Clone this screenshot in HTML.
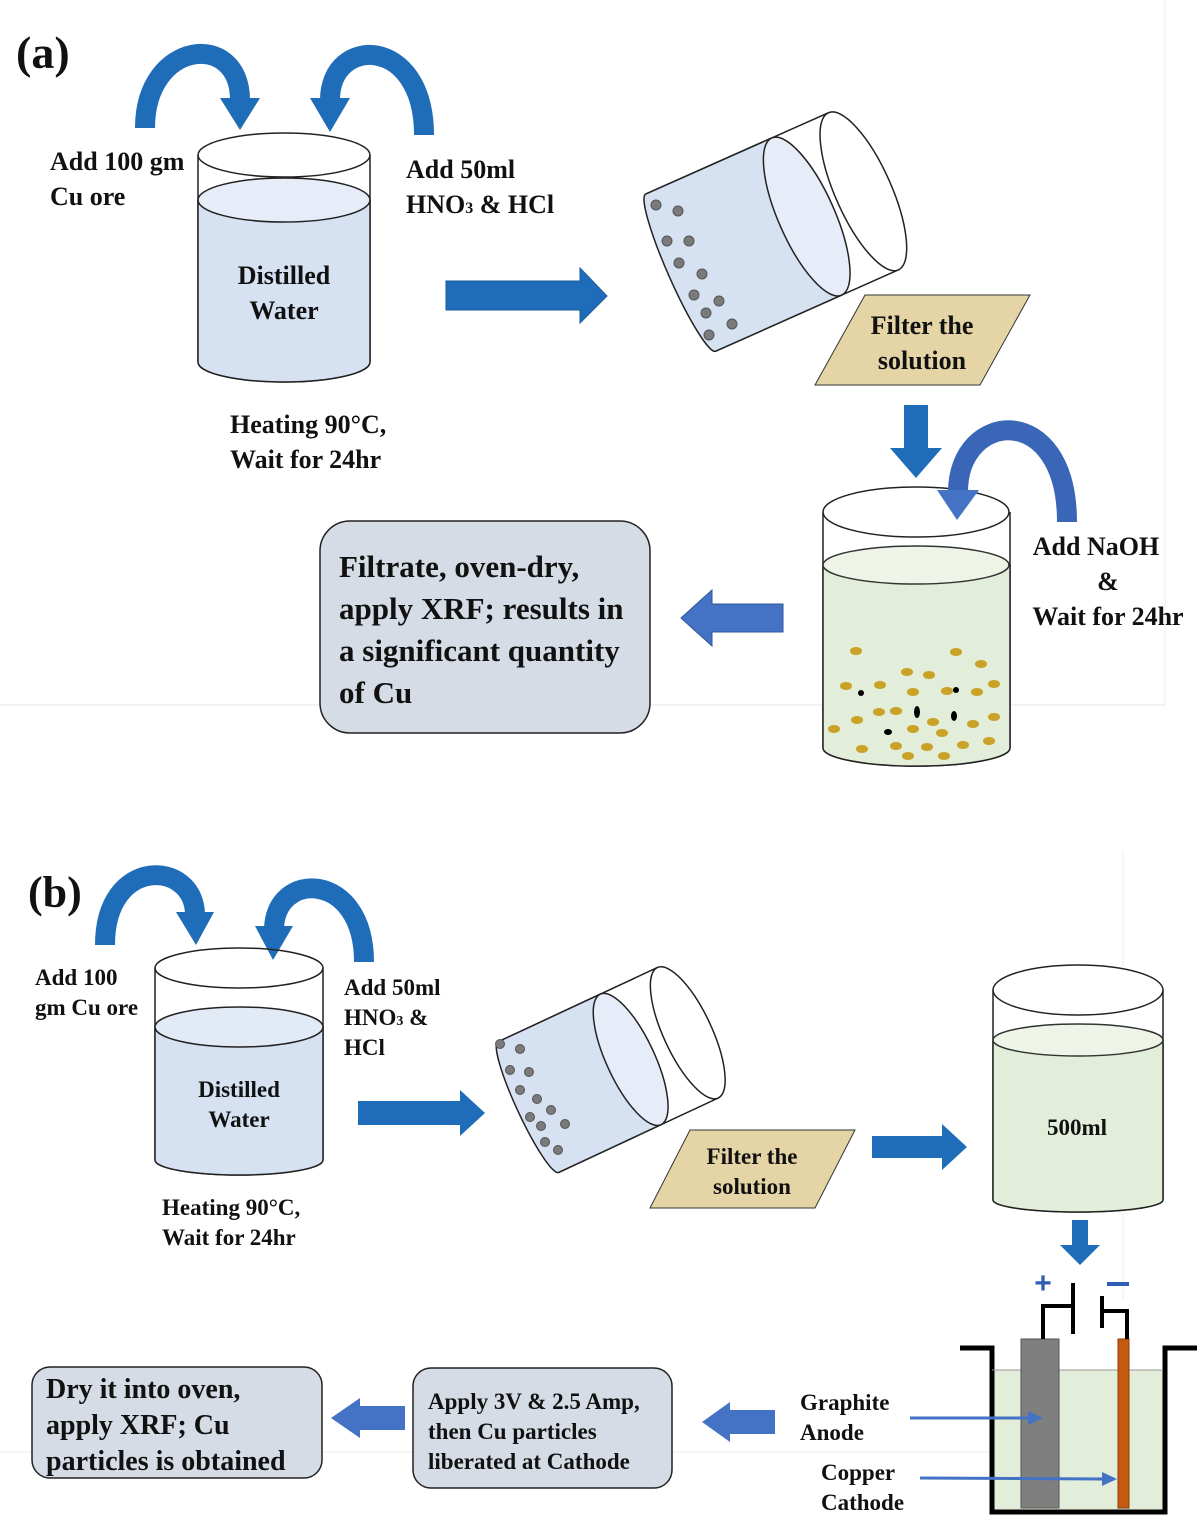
<!DOCTYPE html>
<html><head><meta charset="utf-8"><style>
html,body{margin:0;padding:0;background:#fff}
svg{display:block}
text{font-family:"Liberation Serif",serif;font-weight:bold;fill:#111}
</style></head><body>
<svg width="1200" height="1521" viewBox="0 0 1200 1521" xmlns="http://www.w3.org/2000/svg">
<line x1="0" y1="705" x2="1165" y2="705" stroke="#e6e6e6"/>
<line x1="1165" y1="0" x2="1165" y2="705" stroke="#eeeeee"/>
<line x1="1123" y1="850" x2="1123" y2="1300" stroke="#eeeeee"/>
<line x1="0" y1="1452" x2="990" y2="1452" stroke="#eeeeee"/>

<!-- (a) -->
<text x="16" y="68" font-size="46">(a)</text>
<path d="M198,155 L198,362 A86,20 0 0 0 370,362 L370,155" fill="#fff" stroke="#222" stroke-width="1.5"/>
<path d="M198,200 L198,362 A86,20 0 0 0 370,362 L370,200 Z" fill="#d6e1f2" stroke="#222" stroke-width="1.5"/>
<ellipse cx="284" cy="200" rx="86" ry="22" fill="#e6edf8" stroke="#222" stroke-width="1.5"/>
<ellipse cx="284" cy="155" rx="86" ry="22" fill="none" stroke="#222" stroke-width="1.5"/>
<text x="284" y="284" font-size="26" text-anchor="middle">Distilled</text>
<text x="284" y="319" font-size="26" text-anchor="middle">Water</text>
<path d="M145,128 C145,40 240,30 240,100" fill="none" stroke="#1f6db8" stroke-width="20"/>
<polygon points="220,98 260,98 240,130" fill="#1f6db8"/>
<path d="M424,135 C424,35 330,35 330,100" fill="none" stroke="#1f6db8" stroke-width="20"/>
<polygon points="310,98 350,98 330,132" fill="#1f6db8"/>
<text x="50" y="170" font-size="26">Add 100 gm</text>
<text x="50" y="205" font-size="26">Cu ore</text>
<text x="406" y="178" font-size="26">Add 50ml</text>
<text x="406" y="213" font-size="26">HNO<tspan font-size="16">3</tspan> &amp; HCl</text>
<text x="230" y="433" font-size="26">Heating 90°C,</text>
<text x="230" y="468" font-size="26">Wait for 24hr</text>
<polygon points="446,281 580,281 580,268 607,296 580,323 580,310 446,310" fill="#1f6db8" stroke="#1a5a9a"/>
<g transform="translate(772,232) rotate(-24)">
  <path d="M-100,-86 L100,-86 L100,86 L-100,86" fill="#fff" stroke="#222" stroke-width="1.5"/>
  <path d="M-100,-86 L38,-86 L38,86 L-100,86 A12,86 0 0 1 -100,-86 Z" fill="#d6e1f2" stroke="#222" stroke-width="1.5"/>
  <ellipse cx="38" cy="0" rx="28" ry="86" fill="#e6edf8" stroke="#222" stroke-width="1.5"/>
  <ellipse cx="100" cy="0" rx="28" ry="86" fill="#fff" stroke="#222" stroke-width="1.5"/>
</g>
<g fill="#7a7a7a" stroke="#555">
<circle cx="656" cy="205" r="5"/><circle cx="678" cy="211" r="5"/><circle cx="667" cy="241" r="5"/><circle cx="689" cy="241" r="5"/>
<circle cx="679" cy="263" r="5"/><circle cx="702" cy="274" r="5"/><circle cx="694" cy="295" r="5"/><circle cx="719" cy="301" r="5"/>
<circle cx="706" cy="313" r="5"/><circle cx="732" cy="324" r="5"/><circle cx="709" cy="335" r="5"/>
</g>
<polygon points="815,385 865,295 1030,295 980,385" fill="#e4d4a6" stroke="#333"/>
<text x="922" y="334" font-size="26" text-anchor="middle">Filter the</text>
<text x="922" y="369" font-size="26" text-anchor="middle">solution</text>
<polygon points="904,405 928,405 928,448 942,448 916,478 890,448 904,448" fill="#1f6db8"/>
<path d="M823,512 L823,748 A93,18 0 0 0 1010,748 L1010,512" fill="#fff" stroke="#222" stroke-width="1.5"/>
<path d="M823,565 L823,748 A93,18 0 0 0 1010,748 L1010,565 Z" fill="#e2eed9" stroke="#222" stroke-width="1.5"/>
<ellipse cx="916" cy="565" rx="93" ry="19" fill="#eef5e8" stroke="#333" stroke-width="1.5"/>
<ellipse cx="916" cy="512" rx="93" ry="25" fill="#fff" stroke="#222" stroke-width="1.5"/>
<path d="M1067,522 C1067,400 958,410 958,492" fill="none" stroke="#3a66b8" stroke-width="20"/>
<polygon points="937,490 979,490 957,520" fill="#4472c4"/>
<text x="1096" y="555" font-size="26" text-anchor="middle">Add NaOH</text>
<text x="1108" y="590" font-size="26" text-anchor="middle">&amp;</text>
<text x="1108" y="625" font-size="26" text-anchor="middle">Wait for 24hr</text>
<g fill="#c9a227">
<ellipse cx="856" cy="651" rx="6" ry="4"/><ellipse cx="956" cy="652" rx="6" ry="4"/><ellipse cx="981" cy="664" rx="6" ry="4"/>
<ellipse cx="907" cy="672" rx="6" ry="4"/><ellipse cx="929" cy="675" rx="6" ry="4"/><ellipse cx="846" cy="686" rx="6" ry="4"/>
<ellipse cx="880" cy="685" rx="6" ry="4"/><ellipse cx="913" cy="692" rx="6" ry="4"/><ellipse cx="947" cy="691" rx="6" ry="4"/>
<ellipse cx="977" cy="692" rx="6" ry="4"/><ellipse cx="994" cy="684" rx="6" ry="4"/><ellipse cx="879" cy="712" rx="6" ry="4"/>
<ellipse cx="896" cy="711" rx="6" ry="4"/><ellipse cx="857" cy="720" rx="6" ry="4"/><ellipse cx="834" cy="729" rx="6" ry="4"/>
<ellipse cx="913" cy="729" rx="6" ry="4"/><ellipse cx="933" cy="722" rx="6" ry="4"/><ellipse cx="942" cy="733" rx="6" ry="4"/>
<ellipse cx="973" cy="724" rx="6" ry="4"/><ellipse cx="994" cy="717" rx="6" ry="4"/><ellipse cx="862" cy="749" rx="6" ry="4"/>
<ellipse cx="896" cy="746" rx="6" ry="4"/><ellipse cx="927" cy="747" rx="6" ry="4"/><ellipse cx="963" cy="745" rx="6" ry="4"/>
<ellipse cx="989" cy="741" rx="6" ry="4"/><ellipse cx="908" cy="756" rx="6" ry="4"/><ellipse cx="944" cy="756" rx="6" ry="4"/>
</g>
<g fill="#000">
<circle cx="861" cy="693" r="3"/><circle cx="956" cy="690" r="3"/><ellipse cx="917" cy="712" rx="3" ry="6"/>
<ellipse cx="954" cy="716" rx="3" ry="5"/><ellipse cx="888" cy="732" rx="4" ry="3"/>
</g>
<polygon points="783,604 712,604 712,590 681,618 712,646 712,632 783,632" fill="#4472c4" stroke="#2f5597"/>
<rect x="320" y="521" width="330" height="212" rx="30" fill="#d6dce5" stroke="#222" stroke-width="1.5"/>
<text x="339" y="577" font-size="31">Filtrate, oven-dry,</text>
<text x="339" y="619" font-size="31">apply XRF; results in</text>
<text x="339" y="661" font-size="31">a significant quantity</text>
<text x="339" y="703" font-size="31">of Cu</text>

<!-- (b) -->
<text x="28" y="907" font-size="44">(b)</text>
<path d="M105,945 C105,855 195,860 195,915" fill="none" stroke="#1f6db8" stroke-width="20"/>
<polygon points="176,912 214,912 196,945" fill="#1f6db8"/>
<path d="M364,962 C364,870 274,870 274,930" fill="none" stroke="#1f6db8" stroke-width="20"/>
<polygon points="255,926 293,926 273,960" fill="#1f6db8"/>
<path d="M155,968 L155,1160 A84,15 0 0 0 323,1160 L323,968" fill="#fff" stroke="#222" stroke-width="1.5"/>
<path d="M155,1027 L155,1160 A84,15 0 0 0 323,1160 L323,1027 Z" fill="#d6e1f2" stroke="#222" stroke-width="1.5"/>
<ellipse cx="239" cy="1027" rx="84" ry="20" fill="#e2eaf6" stroke="#222" stroke-width="1.5"/>
<ellipse cx="239" cy="968" rx="84" ry="20" fill="none" stroke="#222" stroke-width="1.5"/>
<text x="239" y="1097" font-size="23" text-anchor="middle">Distilled</text>
<text x="239" y="1127" font-size="23" text-anchor="middle">Water</text>
<text x="35" y="985" font-size="23">Add 100</text>
<text x="35" y="1015" font-size="23">gm Cu ore</text>
<text x="344" y="995" font-size="23">Add 50ml</text>
<text x="344" y="1025" font-size="23">HNO<tspan font-size="14">3</tspan> &amp;</text>
<text x="344" y="1055" font-size="23">HCl</text>
<text x="162" y="1215" font-size="23">Heating 90°C,</text>
<text x="162" y="1245" font-size="23">Wait for 24hr</text>
<polygon points="358,1101 460,1101 460,1090 485,1113 460,1136 460,1125 358,1125" fill="#1f6db8"/>
<g transform="translate(608,1070) rotate(-25)">
  <path d="M-88,-72 L88,-72 L88,72 L-88,72" fill="#fff" stroke="#222" stroke-width="1.5"/>
  <path d="M-88,-72 L25,-72 L25,72 L-88,72 A11,72 0 0 1 -88,-72 Z" fill="#d6e1f2" stroke="#222" stroke-width="1.5"/>
  <ellipse cx="25" cy="0" rx="24" ry="72" fill="#e6edf8" stroke="#222" stroke-width="1.5"/>
  <ellipse cx="88" cy="0" rx="24" ry="72" fill="#fff" stroke="#222" stroke-width="1.5"/>
</g>
<g fill="#7a7a7a" stroke="#555">
<circle cx="500" cy="1044" r="4.5"/><circle cx="520" cy="1049" r="4.5"/><circle cx="510" cy="1070" r="4.5"/><circle cx="529" cy="1072" r="4.5"/>
<circle cx="520" cy="1090" r="4.5"/><circle cx="537" cy="1099" r="4.5"/><circle cx="530" cy="1117" r="4.5"/><circle cx="551" cy="1110" r="4.5"/>
<circle cx="541" cy="1126" r="4.5"/><circle cx="565" cy="1124" r="4.5"/><circle cx="545" cy="1142" r="4.5"/><circle cx="558" cy="1150" r="4.5"/>
</g>
<polygon points="650,1208 690,1130 855,1130 815,1208" fill="#e4d4a6" stroke="#333"/>
<text x="752" y="1164" font-size="23" text-anchor="middle">Filter the</text>
<text x="752" y="1194" font-size="23" text-anchor="middle">solution</text>
<polygon points="872,1136 942,1136 942,1124 967,1147 942,1170 942,1158 872,1158" fill="#1f6db8"/>
<path d="M993,990 L993,1200 A85,12 0 0 0 1163,1200 L1163,990" fill="#fff" stroke="#222" stroke-width="1.5"/>
<path d="M993,1040 L993,1200 A85,12 0 0 0 1163,1200 L1163,1040 Z" fill="#e2eed9" stroke="#222" stroke-width="1.5"/>
<ellipse cx="1078" cy="1040" rx="85" ry="16" fill="#eef5e8" stroke="#333" stroke-width="1.5"/>
<ellipse cx="1078" cy="990" rx="85" ry="25" fill="#fff" stroke="#222" stroke-width="1.5"/>
<text x="1077" y="1135" font-size="23" text-anchor="middle">500ml</text>
<polygon points="1072,1220 1088,1220 1088,1245 1100,1245 1080,1265 1060,1245 1072,1245" fill="#1f6db8"/>
<rect x="992" y="1370" width="171" height="140" fill="#e2eed9"/>
<path d="M960,1348 L992,1348 L992,1512 L1165,1512 L1165,1348 L1197,1348" fill="none" stroke="#000" stroke-width="5"/>
<line x1="992" y1="1370" x2="1163" y2="1370" stroke="#999"/>
<rect x="1021" y="1339" width="38" height="169" fill="#7f7f7f" stroke="#555"/>
<rect x="1118" y="1339" width="11" height="169" fill="#c55a11" stroke="#8a3d0a"/>
<path d="M1043,1339 L1043,1306 L1073,1306 M1073,1283 L1073,1334 M1102,1296 L1102,1328 M1102,1311 L1127,1311 L1127,1339" fill="none" stroke="#000" stroke-width="4"/>
<text x="1043" y="1293" font-size="30" text-anchor="middle" style="fill:#2f5fb3;font-family:'Liberation Sans',sans-serif">+</text>
<rect x="1107" y="1282" width="22" height="4" fill="#2f5fb3"/>
<line x1="910" y1="1418" x2="1030" y2="1418" stroke="#4472c4" stroke-width="3"/>
<polygon points="1028,1411 1043,1418 1028,1425" fill="#4472c4"/>
<line x1="920" y1="1478" x2="1104" y2="1479" stroke="#4472c4" stroke-width="3"/>
<polygon points="1102,1472 1117,1479 1102,1486" fill="#4472c4"/>
<text x="800" y="1410" font-size="23">Graphite</text>
<text x="800" y="1440" font-size="23">Anode</text>
<text x="821" y="1480" font-size="23">Copper</text>
<text x="821" y="1510" font-size="23">Cathode</text>
<polygon points="775,1410 730,1410 730,1402 702,1422 730,1442 730,1434 775,1434" fill="#4472c4"/>
<rect x="413" y="1368" width="259" height="120" rx="18" fill="#d6dce5" stroke="#222" stroke-width="1.5"/>
<text x="428" y="1409" font-size="23">Apply 3V &amp; 2.5 Amp,</text>
<text x="428" y="1439" font-size="23">then Cu particles</text>
<text x="428" y="1469" font-size="23">liberated at Cathode</text>
<polygon points="405,1406 360,1406 360,1398 331,1418 360,1438 360,1430 405,1430" fill="#4472c4"/>
<rect x="32" y="1367" width="290" height="111" rx="18" fill="#d6dce5" stroke="#222" stroke-width="1.5"/>
<text x="46" y="1398" font-size="28">Dry it into oven,</text>
<text x="46" y="1434" font-size="28">apply XRF; Cu</text>
<text x="46" y="1470" font-size="28">particles is obtained</text>
</svg>
</body></html>
